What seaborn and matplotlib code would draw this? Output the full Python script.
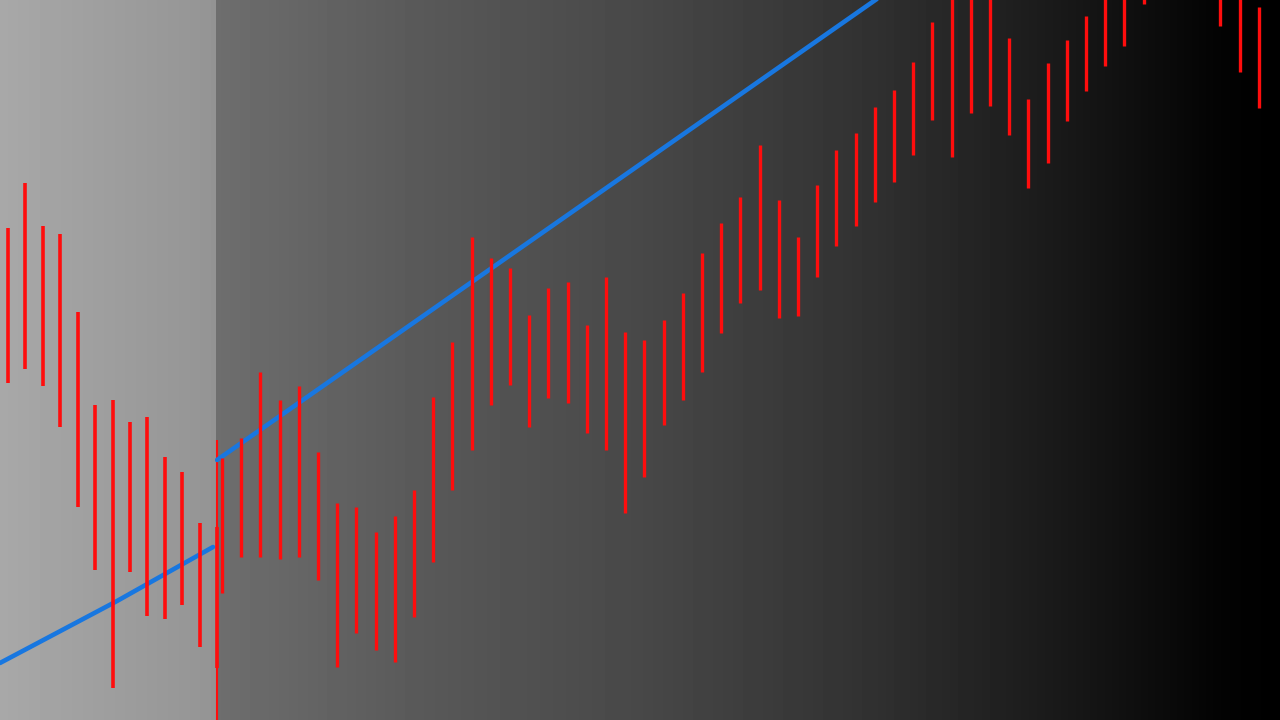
import numpy as np
import matplotlib
matplotlib.use("Agg")
import matplotlib.pyplot as plt
import seaborn as sns

# left panel (older contract) - daily high/low
left_high = [173.0, 184.25, 173.5, 171.5, 152.0, 128.75, 130.0, 124.5,
             125.75, 115.75, 112.0, 99.25, 98.25]
left_low = [134.25, 137.75, 133.5, 123.25, 103.25, 87.5, 58.0, 87.0,
            76.0, 75.25, 78.75, 68.25, 63.0]
roll_high = 120.0
roll_low = 48.0
left_trend_x = [-0.46, 6.26, 11.77]
left_trend_y = [64.25, 79.75, 93.25]

# right panel - daily high/low
right_high = [115.5, 120.5, 137.0, 130.0, 133.5, 117.0, 104.25, 103.25, 97.0,
              101.0, 107.5, 130.75, 144.5, 170.75, 165.5, 163.0, 151.25, 158.0,
              159.5, 148.75, 160.75, 147.0, 145.0, 150.0, 156.75, 166.75, 174.25,
              180.75, 193.75, 180.0, 170.75, 183.75, 192.5, 196.75, 203.25, 207.5,
              214.5, 224.5, 232.5, 235.0, 233.75, 220.5, 205.25, 214.25, 220.0,
              226.0, 237.5, 240.0, 245.0, 252.5, 255.0, 250.0, 242.5, 237.5, 228.25]
right_low = [81.75, 90.75, 90.75, 90.25, 90.75, 85.0, 63.25, 71.75, 67.5,
             64.5, 75.75, 89.5, 107.5, 117.5, 128.75, 133.75, 123.25, 130.5,
             129.25, 121.75, 117.5, 101.75, 110.75, 123.75, 130.0, 137.0, 146.75,
             154.25, 157.5, 150.5, 151.0, 160.75, 168.5, 173.5, 179.5, 184.5,
             191.25, 200.0, 190.75, 201.75, 203.5, 196.25, 183.0, 189.25, 199.75,
             207.25, 213.5, 218.5, 229.0, 232.5, 235.0, 231.25, 223.5, 212.0, 203.0]
right_trend_x = [-0.26, 54]
right_trend_y = [115.0, 297.0]

RED = "#ff0d0d"
BLUE = "#1877e0"

sns.set_theme(style="dark")

fig = plt.figure(figsize=(12.8, 7.2), dpi=100)

# background gradient
bg = fig.add_axes([0, 0, 1, 1])
cols = np.arange(1280)
gray = np.interp(cols, [0, 215, 216, 430, 640, 860, 1060, 1220, 1280],
                 [168, 148, 110, 88, 72, 50, 25, 3, 0])
bg.imshow(np.tile(gray, (10, 1)), cmap="gray", vmin=0, vmax=255,
          aspect="auto", extent=[0, 1280, 0, 720])
bg.set_axis_off()

ax_l = fig.add_axes([0, 0, 220 / 1280, 1])
ax_r = fig.add_axes([215 / 1280, 0, 1065 / 1280, 1])
for ax in (ax_l, ax_r):
    ax.set_facecolor("none")
    ax.set_ylim(50, 230)
    ax.set_axis_off()

ax_l.set_xlim(-0.459, 12.17)
ax_r.set_xlim(-0.365, 55.1)

# left panel
sns.lineplot(x=left_trend_x, y=left_trend_y, ax=ax_l, color=BLUE, lw=3.3)
ax_l.vlines(np.arange(len(left_high)), left_low, left_high, color=RED, lw=2.6)
ax_l.vlines(len(left_high) - 1, roll_low, roll_high, color=RED, lw=1.5)

# right panel
sns.lineplot(x=right_trend_x, y=right_trend_y, ax=ax_r, color=BLUE, lw=3.3)
ax_r.vlines(np.arange(len(right_high)), right_low, right_high, color=RED, lw=2.4)

fig.savefig("out.png", dpi=100)
